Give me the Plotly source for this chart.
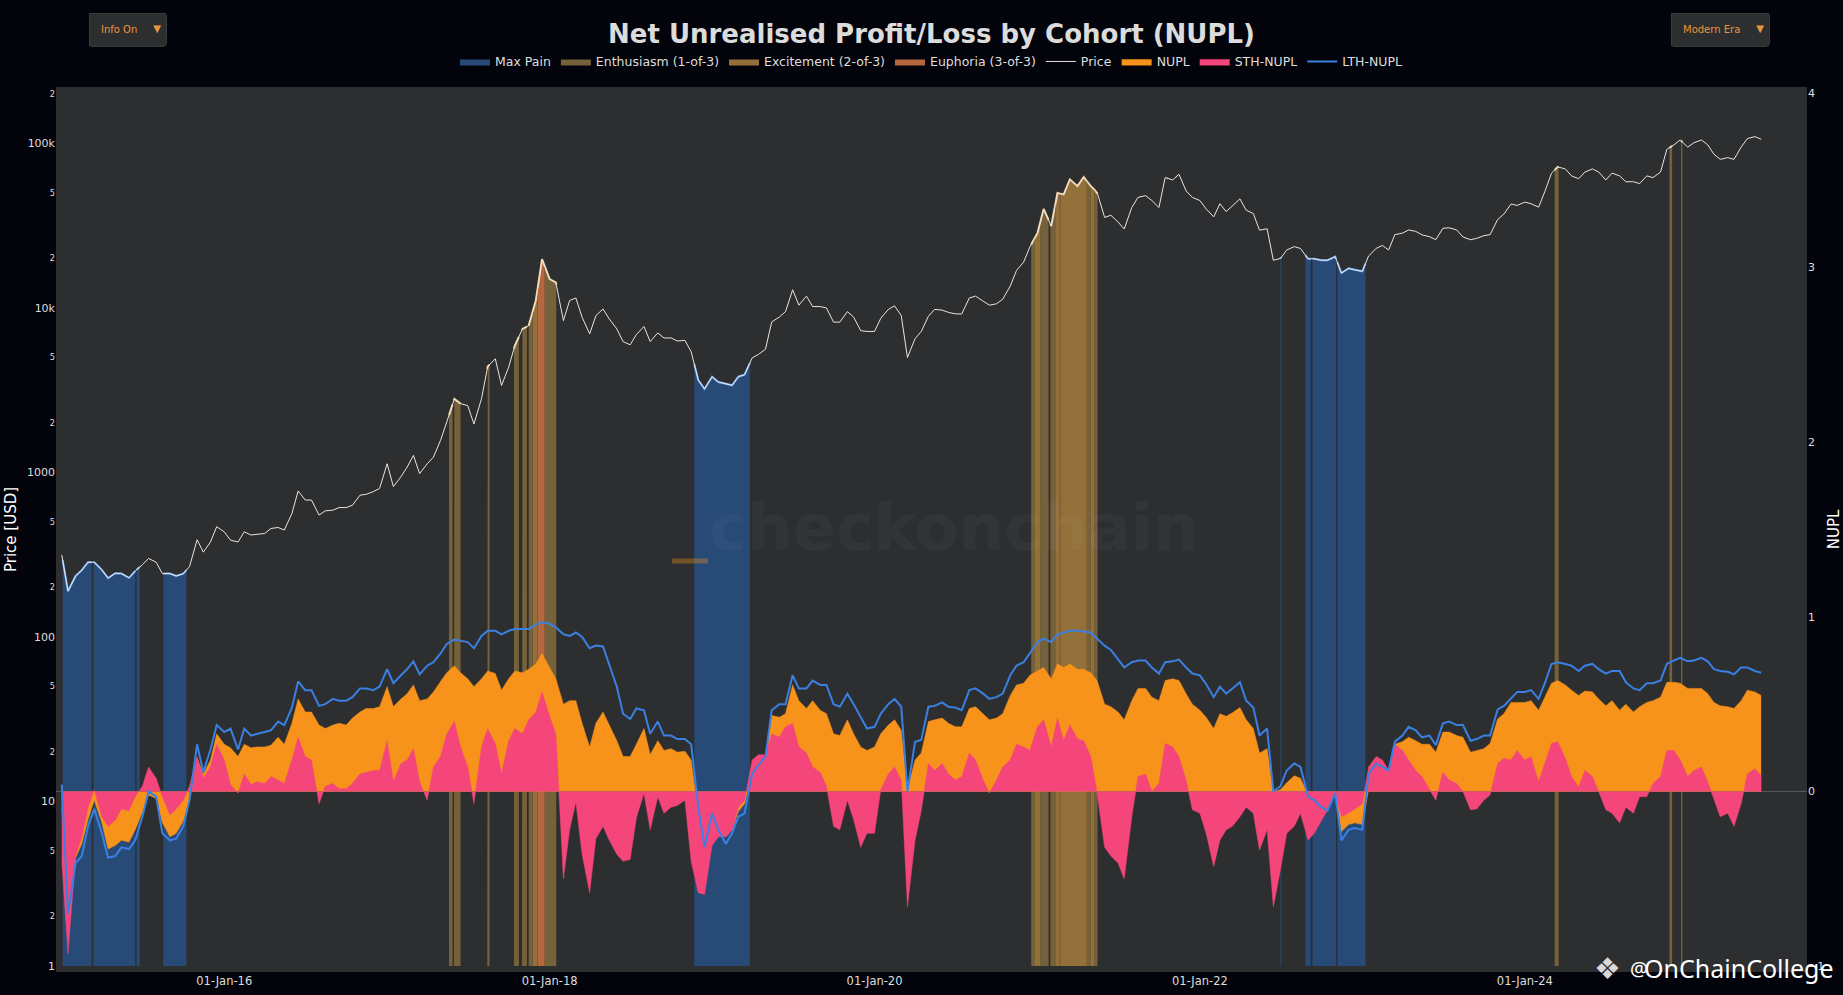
import numpy as np
import pandas as pd
import plotly.graph_objects as go

# half-monthly readings, 2015-01-01 to 2025-06-15
dates = pd.date_range('2015-01-01', periods=252, freq='SMS')

price = [
    315, 190, 235, 255, 285, 285, 256, 228, 244, 243, 229, 252,
    275, 300, 285, 243, 243, 235, 243, 268, 390, 328, 378, 468,
    436, 388, 378, 436, 417, 423, 426, 457, 463, 447, 563, 772,
    680, 680, 551, 585, 590, 612, 612, 632, 728, 737, 765, 800,
    1130, 820, 942, 1080, 1270, 985, 1130, 1240, 1570, 2030, 2800, 2620,
    2550, 1970, 2810, 4410, 4910, 3380, 4370, 5910, 7460, 7810, 11100, 19800,
    14990, 14300, 8380, 11100, 11500, 8780, 6960, 8980, 9860, 8580, 7460, 6250,
    5970, 6900, 7710, 6250, 7050, 6570, 6570, 6300, 6350, 5420, 3650, 3220,
    3820, 3550, 3470, 3390, 3820, 3930, 4970, 5220, 5610, 8230, 8800, 9500,
    12900, 10400, 11800, 10200, 10200, 10000, 8200, 8200, 9500, 8800, 7280, 7200,
    7200, 8650, 9800, 10300, 9000, 5000, 6500, 7200, 8900, 9800, 9700, 9400,
    9200, 9200, 11500, 11800, 11000, 10400, 10600, 11300, 13600, 16900, 19000, 23500,
    28500, 40000, 31500, 50000, 49000, 60500, 55000, 62500, 55000, 50500, 35500, 36600,
    33300, 30200, 40800, 47000, 48200, 45000, 40800, 62000, 60000, 65000, 51500, 47000,
    45000, 40000, 35800, 43000, 38500, 41800, 46000, 39300, 37500, 29700, 30300, 19500,
    20000, 22500, 23600, 23000, 19900, 19900, 19500, 19500, 20500, 16300, 17400, 17000,
    16700, 20700, 23000, 24000, 22500, 27900, 28500, 29800, 29200, 27800, 27100, 26000,
    30500, 30700, 29800, 27000, 26000, 26500, 27500, 27900, 34500, 37200, 42800, 42000,
    44000, 43000, 41000, 51000, 66000, 72000, 70000, 63500, 61000, 67000, 70000, 67000,
    60000, 66000, 63500, 58500, 58500, 57000, 63500, 62000, 67000, 92000, 98000, 105000,
    95000, 101000, 105000, 98000, 86000, 80000, 82000, 80000, 95000, 107000, 110000, 106000,
]

nupl = [
    -0.10, -0.68, -0.38, -0.30, -0.16, -0.05, -0.18, -0.33, -0.31, -0.28, -0.29, -0.22,
    -0.12, -0.02, -0.04, -0.18, -0.26, -0.24, -0.17, -0.05, 0.19, 0.10, 0.18, 0.33,
    0.27, 0.25, 0.20, 0.27, 0.25, 0.255, 0.255, 0.265, 0.31, 0.27, 0.39, 0.53,
    0.455, 0.455, 0.38, 0.36, 0.38, 0.39, 0.38, 0.42, 0.455, 0.475, 0.475, 0.485,
    0.60, 0.485, 0.53, 0.56, 0.61, 0.52, 0.53, 0.57, 0.63, 0.68, 0.72, 0.68,
    0.645, 0.60, 0.645, 0.69, 0.675, 0.58, 0.645, 0.69, 0.68, 0.70, 0.73, 0.79,
    0.71, 0.645, 0.50, 0.52, 0.52, 0.39, 0.255, 0.39, 0.455, 0.38, 0.29, 0.20,
    0.20, 0.27, 0.36, 0.21, 0.29, 0.235, 0.245, 0.225, 0.23, 0.18, -0.12, -0.28,
    -0.14, -0.20, -0.26, -0.22, -0.115, -0.07, 0.10, 0.15, 0.20, 0.435, 0.425, 0.445,
    0.61, 0.52, 0.475, 0.52, 0.465, 0.445, 0.33, 0.32, 0.41, 0.33, 0.255, 0.235,
    0.255, 0.33, 0.38, 0.41, 0.35, 0.01, 0.18, 0.22, 0.40, 0.41, 0.42, 0.39,
    0.37, 0.37, 0.475, 0.485, 0.445, 0.41, 0.42, 0.445, 0.55, 0.61, 0.62, 0.665,
    0.69, 0.71, 0.645, 0.73, 0.71, 0.73, 0.70, 0.70, 0.68, 0.635, 0.50, 0.485,
    0.455, 0.41, 0.52, 0.59, 0.59, 0.54, 0.52, 0.635, 0.645, 0.635, 0.56, 0.50,
    0.465, 0.425, 0.36, 0.445, 0.43, 0.45, 0.48, 0.41, 0.36, 0.22, 0.245, 0.0,
    0.01, 0.05, 0.09, 0.075, -0.02, -0.03, -0.06, -0.095, -0.01, -0.23, -0.19, -0.18,
    -0.19, 0.01, 0.13, 0.11, 0.085, 0.27, 0.285, 0.31, 0.29, 0.27, 0.27, 0.225,
    0.34, 0.34, 0.32, 0.31, 0.225, 0.235, 0.245, 0.275, 0.415, 0.445, 0.51, 0.51,
    0.51, 0.52, 0.465, 0.54, 0.62, 0.635, 0.61, 0.58, 0.55, 0.575, 0.57, 0.53,
    0.49, 0.52, 0.465, 0.50, 0.455, 0.485, 0.51, 0.52, 0.54, 0.625, 0.625, 0.62,
    0.59, 0.59, 0.59, 0.56, 0.51, 0.49, 0.485, 0.475, 0.52, 0.58, 0.57, 0.55,
]

sth_nupl = [
    -0.40, -0.93, -0.37, -0.26, -0.09, 0.01, -0.145, -0.20, -0.165, -0.10, -0.11, -0.03,
    0.03, 0.14, 0.075, -0.03, -0.135, -0.10, -0.05, 0.03, 0.20, 0.075, 0.14, 0.27,
    0.18, 0.04, -0.01, 0.10, 0.04, 0.055, 0.045, 0.085, 0.065, 0.045, 0.18, 0.31,
    0.20, 0.18, -0.07, 0.03, 0.045, 0.015, 0.015, 0.045, 0.10, 0.11, 0.12, 0.12,
    0.29, 0.055, 0.16, 0.18, 0.245, 0.055, -0.05, 0.14, 0.20, 0.33, 0.40, 0.255,
    0.14, -0.07, 0.255, 0.36, 0.275, 0.10, 0.29, 0.36, 0.33, 0.41, 0.455, 0.57,
    0.43, 0.33, -0.50, -0.22, -0.06, -0.36, -0.58, -0.27, -0.20, -0.28, -0.36, -0.40,
    -0.39, -0.15, -0.01, -0.22, -0.03, -0.125, -0.09, -0.08, -0.05, -0.40, -0.58, -0.59,
    -0.31, -0.26, -0.26, -0.22, -0.09, -0.05, 0.18, 0.21, 0.21, 0.33, 0.31, 0.37,
    0.39, 0.255, 0.22, 0.14, 0.11, 0.03, -0.20, -0.22, -0.05, -0.16, -0.32, -0.24,
    -0.24, 0.01, 0.10, 0.14, 0.065, -0.66, -0.28, -0.11, 0.16, 0.12, 0.16, 0.10,
    0.065, 0.085, 0.22, 0.18, 0.065, -0.01, 0.065, 0.14, 0.18, 0.27, 0.255, 0.235,
    0.37, 0.41, 0.255, 0.42, 0.29, 0.38, 0.30, 0.29, 0.20, -0.01, -0.32, -0.37,
    -0.41, -0.50, -0.145, 0.085, 0.10, 0.0, 0.045, 0.275, 0.255, 0.20, 0.065, -0.105,
    -0.125, -0.24, -0.43, -0.28, -0.22, -0.20, -0.145, -0.09, -0.125, -0.335, -0.22, -0.66,
    -0.45, -0.24, -0.20, -0.125, -0.28, -0.24, -0.165, -0.105, -0.01, -0.145, -0.125, -0.10,
    -0.07, 0.14, 0.20, 0.18, 0.12, 0.27, 0.235, 0.18, 0.12, 0.085, 0.01, -0.05,
    0.11, 0.065, 0.045, 0.0, -0.105, -0.10, -0.05, -0.02, 0.16, 0.19, 0.18, 0.235,
    0.18, 0.20, 0.055, 0.16, 0.275, 0.285, 0.19, 0.085, 0.025, 0.12, 0.085, 0.0,
    -0.105, -0.125, -0.18, -0.09, -0.125, -0.03, -0.03, 0.045, 0.085, 0.235, 0.235, 0.18,
    0.085, 0.12, 0.14, 0.055, -0.05, -0.145, -0.125, -0.20, -0.07, 0.10, 0.13, 0.09,
]

lth_nupl = [
    0.04, -0.70, -0.41, -0.37, -0.20, -0.10, -0.24, -0.38, -0.37, -0.32, -0.33, -0.28,
    -0.145, 0.0, -0.03, -0.24, -0.28, -0.27, -0.20, -0.05, 0.27, 0.11, 0.24, 0.38,
    0.34, 0.36, 0.24, 0.36, 0.32, 0.33, 0.34, 0.35, 0.40, 0.38, 0.48, 0.63,
    0.58, 0.58, 0.49, 0.50, 0.53, 0.52, 0.52, 0.54, 0.59, 0.59, 0.58, 0.60,
    0.70, 0.62, 0.665, 0.70, 0.745, 0.67, 0.72, 0.74, 0.79, 0.845, 0.87, 0.865,
    0.855, 0.82, 0.89, 0.92, 0.92, 0.90, 0.92, 0.93, 0.93, 0.93, 0.955, 0.97,
    0.96, 0.94, 0.90, 0.89, 0.91, 0.885, 0.82, 0.835, 0.83, 0.73, 0.60, 0.445,
    0.415, 0.475, 0.465, 0.33, 0.40, 0.32, 0.32, 0.30, 0.30, 0.27, -0.09, -0.32,
    -0.125, -0.22, -0.30, -0.24, -0.145, -0.125, 0.10, 0.15, 0.20, 0.465, 0.50, 0.50,
    0.665, 0.59, 0.59, 0.635, 0.61, 0.61, 0.50, 0.485, 0.56, 0.50, 0.425, 0.36,
    0.37, 0.445, 0.50, 0.53, 0.485, 0.0, 0.285, 0.295, 0.485, 0.49, 0.51, 0.485,
    0.48, 0.465, 0.58, 0.59, 0.56, 0.53, 0.54, 0.56, 0.665, 0.72, 0.74, 0.79,
    0.855, 0.875, 0.855, 0.90, 0.91, 0.92, 0.92, 0.915, 0.91, 0.875, 0.835, 0.81,
    0.76, 0.71, 0.74, 0.75, 0.75, 0.71, 0.675, 0.74, 0.745, 0.755, 0.71, 0.675,
    0.665, 0.615, 0.54, 0.60, 0.56, 0.59, 0.625, 0.52, 0.48, 0.32, 0.36, 0.0,
    0.03, 0.12, 0.16, 0.14, -0.03, -0.05, -0.09, -0.11, -0.01, -0.28, -0.22, -0.21,
    -0.22, 0.10, 0.16, 0.14, 0.12, 0.285, 0.32, 0.37, 0.35, 0.31, 0.32, 0.265,
    0.39, 0.40, 0.38, 0.38, 0.29, 0.30, 0.32, 0.32, 0.47, 0.49, 0.53, 0.57,
    0.57, 0.58, 0.53, 0.62, 0.73, 0.74, 0.73, 0.72, 0.69, 0.72, 0.73, 0.70,
    0.675, 0.69, 0.69, 0.625, 0.59, 0.58, 0.62, 0.62, 0.635, 0.73, 0.75, 0.765,
    0.745, 0.75, 0.765, 0.745, 0.70, 0.69, 0.685, 0.67, 0.71, 0.71, 0.69, 0.68,
]

# regime windows, start and end dates
max_pain = [
    ('2015-01-03', '2015-03-09'), ('2015-03-13', '2015-06-15'), ('2015-06-18', '2015-06-25'),
    ('2015-08-17', '2015-10-08'), ('2018-11-22', '2019-03-27'), ('2022-07-01', '2022-07-03'),
    ('2022-08-26', '2022-09-07'), ('2022-09-11', '2022-11-03'), ('2022-11-06', '2023-01-08'),
]
enthusiasm = [
    ('2017-05-20', '2017-05-28'), ('2017-05-31', '2017-06-15'), ('2017-08-14', '2017-08-19'),
    ('2017-10-13', '2017-10-24'), ('2017-10-31', '2017-11-11'), ('2017-11-15', '2017-11-24'),
    ('2017-12-21', '2018-01-16'), ('2020-12-18', '2020-12-25'), ('2021-01-07', '2021-01-26'),
    ('2021-01-30', '2021-02-10'), ('2021-04-22', '2021-04-30'), ('2021-05-09', '2021-05-16'),
    ('2021-10-19', '2021-10-20'), ('2021-11-09', '2021-11-10'), ('2024-03-08', '2024-03-17'),
    ('2024-11-21', '2024-11-27'), ('2024-12-17', '2024-12-20'),
]
excitement = [
    ('2017-11-24', '2017-12-05'), ('2020-12-25', '2021-01-07'), ('2021-02-10', '2021-02-19'),
    ('2021-02-22', '2021-04-22'), ('2021-04-30', '2021-05-09'),
]
euphoria = [('2017-12-05', '2017-12-21'), ('2021-02-19', '2021-02-22')]

PAPER = '#03030b'
PLOT = '#2d2e30'
TEXT = '#dedede'
ORANGE = '#e8963c'


def regime_xy(windows):
    # price curve inside each window, closed down to y=1 for the fill
    t = dates.astype('int64').to_numpy(dtype=float)
    logp = np.log10(price)
    top_x, top_y, box_x, box_y = [], [], [], []
    for start, end in windows:
        s, e = pd.Timestamp(start), pd.Timestamp(end)
        inner = dates[(dates > s) & (dates < e)]
        xs = [s] + list(inner) + [e]
        tx = pd.DatetimeIndex(xs).astype('int64').to_numpy(dtype=float)
        ys = list(10 ** np.interp(tx, t, logp))
        top_x += xs + [None]
        top_y += ys + [None]
        box_x += [s] + xs + [e, s, None]
        box_y += [1] + ys + [1, 1, None]
    return top_x, top_y, box_x, box_y


def regime_traces(name, windows, fill, edge):
    top_x, top_y, box_x, box_y = regime_xy(windows)
    yield go.Scatter(x=box_x, y=box_y, name=name, mode='lines', fill='toself', fillcolor=fill,
                     line=dict(width=0, color=fill), legendgroup=name, hoverinfo='skip')
    yield go.Scatter(x=top_x, y=top_y, mode='lines', line=dict(width=2, color=edge),
                     legendgroup=name, showlegend=False, hoverinfo='skip')


fig = go.Figure()
for tr in regime_traces('Max Pain', max_pain, '#284a77', '#6ea6ee'):
    fig.add_trace(tr)
for tr in regime_traces('Enthusiasm (1-of-3)', enthusiasm, '#75613a', '#f0c690'):
    fig.add_trace(tr)
for tr in regime_traces('Excitement (2-of-3)', excitement, '#93703a', '#f0c690'):
    fig.add_trace(tr)
for tr in regime_traces('Euphoria (3-of-3)', euphoria, '#b5673f', '#f0c690'):
    fig.add_trace(tr)

fig.add_trace(go.Scatter(x=dates, y=price, name='Price', mode='lines',
                         line=dict(color='#e6e6e6', width=1)))
fig.add_trace(go.Scatter(x=dates, y=nupl, name='NUPL', yaxis='y2', mode='lines', fill='tozeroy',
                         fillcolor='#f7931a', line=dict(color='#f7931a', width=0.5)))
fig.add_trace(go.Scatter(x=dates, y=sth_nupl, name='STH-NUPL', yaxis='y2', mode='lines', fill='tozeroy',
                         fillcolor='#f4467a', line=dict(color='#f4467a', width=0.5)))
fig.add_trace(go.Scatter(x=dates, y=lth_nupl, name='LTH-NUPL', yaxis='y2', mode='lines',
                         line=dict(color='#3a80e2', width=2)))

fig.update_layout(
    width=1843,
    height=995,
    margin=dict(l=56, r=36, t=85, b=23),
    paper_bgcolor=PAPER,
    plot_bgcolor=PLOT,
    font=dict(family='DejaVu Sans', color=TEXT, size=11),
    title=dict(text='<b>Net Unrealised Profit/Loss by Cohort (NUPL)</b>', x=0.5, xref='paper',
               xanchor='center', y=0.966, yanchor='middle', font=dict(size=26, color='#dcdcdc')),
    legend=dict(orientation='h', x=0.5, xanchor='center', y=1.0115, yanchor='bottom',
                font=dict(size=12.5, color=TEXT), bgcolor='rgba(0,0,0,0)', tracegroupgap=0),
    xaxis=dict(range=['2014-12-19', '2025-09-26'], tick0='2016-01-01', dtick='M24',
               tickformat='%d-%b-%y', showgrid=False, zeroline=False, ticklen=0,
               tickfont=dict(size=11.5), automargin=False),
    yaxis=dict(type='log', range=[-0.036, 5.343], dtick='D2', showgrid=False, zeroline=False, ticklen=0,
               title=dict(text='Price [USD]', font=dict(size=15, color='#ffffff'), standoff=6),
               tickfont=dict(size=11), automargin=False),
    yaxis2=dict(overlaying='y', side='right', range=[-1.034, 4.034], dtick=1, showgrid=False,
                zeroline=True, zerolinecolor='#56585b', zerolinewidth=1, ticklen=0,
                title=dict(text='NUPL', font=dict(size=15, color='#ffffff'), standoff=10),
                tickfont=dict(size=11), automargin=False),
    updatemenus=[
        dict(type='dropdown', x=0.018, y=1.0845, xanchor='left', yanchor='top', showactive=False,
             bgcolor=PLOT, bordercolor='#3a3b3d', borderwidth=1, font=dict(size=10, color=ORANGE),
             pad=dict(l=0, r=0, t=0, b=0),
             buttons=[dict(label='Info On', method='skip', args=[None]),
                      dict(label='Off', method='skip', args=[None])]),
        dict(type='dropdown', x=0.922, y=1.0845, xanchor='left', yanchor='top', showactive=False,
             bgcolor=PLOT, bordercolor='#3a3b3d', borderwidth=1, font=dict(size=10, color=ORANGE),
             pad=dict(l=0, r=0, t=0, b=0),
             buttons=[dict(label='Modern Era', method='skip', args=[None]),
                      dict(label='Full History', method='skip', args=[None])]),
    ],
    annotations=[
        dict(text='<b>checkonchain</b>', xref='paper', yref='paper', x=0.5, y=0.5, xshift=22, yshift=2,
             showarrow=False, font=dict(size=64, color='rgba(255,255,255,0.03)')),
        dict(text='\u2756', xref='paper', yref='paper', x=0.8863, y=0, yshift=4, xanchor='center',
             yanchor='middle', showarrow=False, font=dict(size=30, color='#d8d8d8')),
        dict(text='@', xref='paper', yref='paper', x=0.8977, y=0, yshift=4, xanchor='left',
             yanchor='middle', showarrow=False, font=dict(family='Noto Sans', size=20, color='#ffffff')),
        dict(text='OnChainCollege', xref='paper', yref='paper', x=1, y=0, xshift=29, yshift=4, xanchor='right',
             yanchor='middle', showarrow=False, font=dict(family='Noto Sans', size=25, color='#ffffff')),
    ],
    shapes=[
        dict(type='line', xref='paper', yref='paper', x0=0.3518, x1=0.3723, y0=0.4645, y1=0.4645,
             line=dict(color='rgba(247,147,26,0.35)', width=5)),
    ],
)

fig.write_html('out.html', post_script="document.body.style.margin='0';",
               config={'displayModeBar': False})
